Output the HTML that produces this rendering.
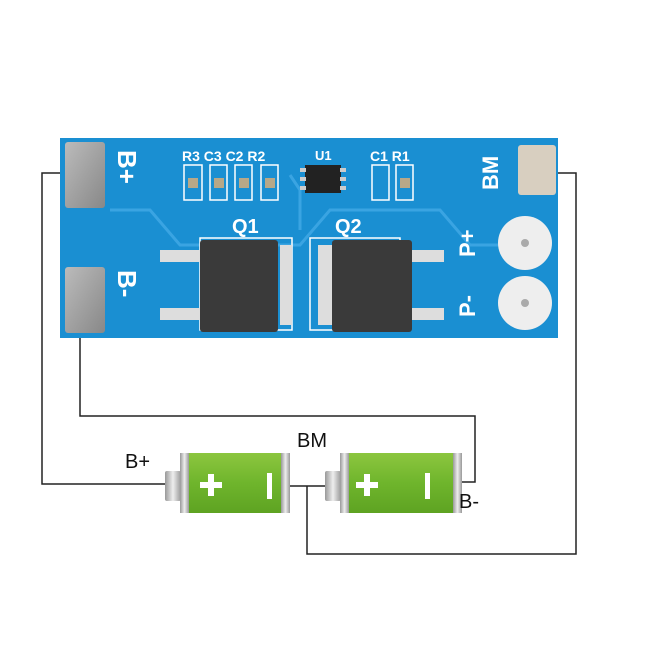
<!DOCTYPE html>
<html><head><style>body{margin:0;background:#fff}svg{display:block}</style></head><body>
<svg width="650" height="650" viewBox="0 0 650 650" xmlns="http://www.w3.org/2000/svg" font-family="Liberation Sans, sans-serif">
<defs>
<linearGradient id="g" x1="0" y1="0" x2="0" y2="1"><stop offset="0" stop-color="#8cc63f"/><stop offset="0.5" stop-color="#6fb52c"/><stop offset="1" stop-color="#5ea322"/></linearGradient>
<linearGradient id="s" x1="0" y1="0" x2="1" y2="0"><stop offset="0" stop-color="#999"/><stop offset="0.5" stop-color="#eee"/><stop offset="1" stop-color="#999"/></linearGradient>
<linearGradient id="pad" x1="0" y1="0" x2="1" y2="1"><stop offset="0" stop-color="#bbb"/><stop offset="1" stop-color="#888"/></linearGradient>
</defs>
<g fill="none" stroke="#222" stroke-width="1.5">
<polyline points="62,173 42,173 42,484 166,484"/>
<polyline points="80,338 80,416 475,416 475,482 462,482"/>
<polyline points="556,173 576,173 576,554 307,554 307,486 290,486 326,486"/>
</g>
<rect x="60" y="138" width="498" height="200" fill="#1a8fd2"/>
<g fill="none" stroke="#3aa4e2" stroke-width="3">
<polyline points="110,210 150,210 180,245 300,245 330,210 440,210 470,245 520,245"/>
<polyline points="290,175 300,190 300,230"/>
</g>
<rect x="65" y="142" width="40" height="66" rx="3" fill="url(#pad)"/>
<rect x="65" y="267" width="40" height="66" rx="3" fill="url(#pad)"/>
<rect x="518" y="145" width="38" height="50" rx="3" fill="#d8cfc0"/>
<circle cx="525" cy="243" r="27" fill="#eee"/><circle cx="525" cy="243" r="4" fill="#aaa"/>
<circle cx="525" cy="303" r="27" fill="#eee"/><circle cx="525" cy="303" r="4" fill="#aaa"/>
<g fill="#fff" font-weight="bold">
<text x="112" y="174" font-size="26" transform="rotate(90 127 165)">B+</text>
<text x="112" y="294" font-size="26" transform="rotate(90 127 285)">B-</text>
<text x="475" y="183" font-size="22" transform="rotate(-90 490 175)">BM</text>
<text x="453" y="251" font-size="22" transform="rotate(-90 467 243)">P+</text>
<text x="453" y="311" font-size="22" transform="rotate(-90 467 303)">P-</text>
<text x="232" y="233" font-size="20">Q1</text>
<text x="335" y="233" font-size="20">Q2</text>
<text x="182" y="161" font-size="14">R3 C3 C2 R2</text>
<text x="315" y="160" font-size="13">U1</text>
<text x="370" y="161" font-size="14">C1 R1</text>
</g>
<g fill="none" stroke="#fff" stroke-width="1.5">
<rect x="184" y="165" width="18" height="35"/><rect x="210" y="165" width="17" height="35"/><rect x="235" y="165" width="17" height="35"/><rect x="261" y="165" width="17" height="35"/>
<rect x="372" y="165" width="17" height="35"/><rect x="396" y="165" width="17" height="35"/>
<rect x="200" y="238" width="92" height="92"/><rect x="310" y="238" width="90" height="92"/>
</g>
<g fill="#b8a888"><rect x="188" y="178" width="10" height="10"/><rect x="214" y="178" width="10" height="10"/><rect x="239" y="178" width="10" height="10"/><rect x="265" y="178" width="10" height="10"/><rect x="400" y="178" width="10" height="10"/></g>
<rect x="305" y="165" width="36" height="28" fill="#222"/>
<g fill="#ccc"><rect x="300" y="168" width="6" height="4"/><rect x="300" y="177" width="6" height="4"/><rect x="300" y="186" width="6" height="4"/><rect x="340" y="168" width="6" height="4"/><rect x="340" y="177" width="6" height="4"/><rect x="340" y="186" width="6" height="4"/></g>
<g fill="#ddd"><rect x="160" y="250" width="42" height="12"/><rect x="160" y="308" width="42" height="12"/><rect x="410" y="250" width="34" height="12"/><rect x="410" y="308" width="34" height="12"/><rect x="280" y="245" width="12" height="80"/><rect x="318" y="245" width="14" height="80"/></g>
<rect x="200" y="240" width="78" height="92" rx="3" fill="#3a3a3a"/>
<rect x="332" y="240" width="80" height="92" rx="3" fill="#3a3a3a"/>
<rect x="165" y="471" width="16" height="30" rx="2" fill="url(#s)"/>
<rect x="180" y="453" width="110" height="60" fill="url(#g)"/>
<rect x="180" y="453" width="9" height="60" fill="url(#s)"/><rect x="281" y="453" width="9" height="60" fill="url(#s)"/>
<rect x="325" y="471" width="16" height="30" rx="2" fill="url(#s)"/>
<rect x="340" y="453" width="122" height="60" fill="url(#g)"/>
<rect x="340" y="453" width="9" height="60" fill="url(#s)"/><rect x="453" y="453" width="9" height="60" fill="url(#s)"/>
<g fill="#fff"><rect x="200" y="482" width="22" height="6"/><rect x="208" y="474" width="6" height="22"/><rect x="267" y="473" width="5" height="26"/>
<rect x="356" y="482" width="22" height="6"/><rect x="364" y="474" width="6" height="22"/><rect x="425" y="473" width="5" height="26"/></g>
<g fill="#111" font-size="20"><text x="125" y="468">B+</text><text x="297" y="447">BM</text><text x="459" y="508">B-</text></g>
</svg>
</body></html>
